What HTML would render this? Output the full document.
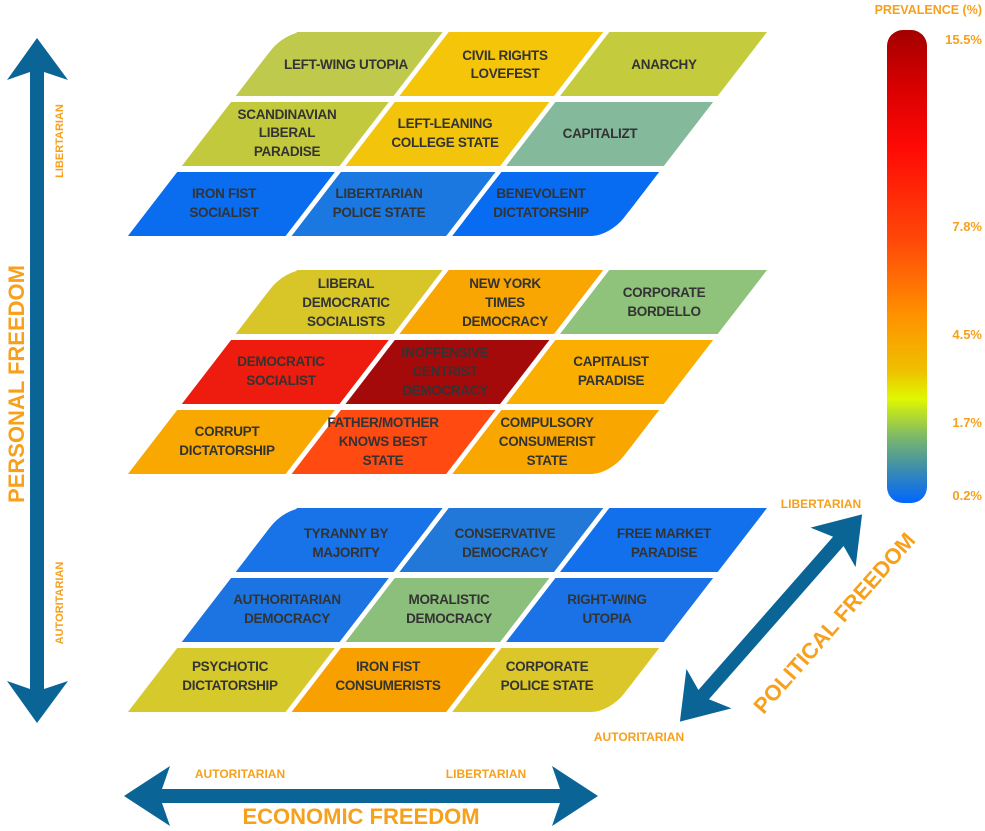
<!DOCTYPE html>
<html><head><meta charset="utf-8"><style>
html,body{margin:0;padding:0;background:#fff;}
svg{display:block;font-family:"Liberation Sans",sans-serif;}
.c{font-weight:bold;font-size:13.5px;fill:#333;text-anchor:middle;letter-spacing:-0.3px;}
.o{fill:#f7a01c;font-weight:bold;}
</style></head><body>
<svg width="985" height="831" viewBox="0 0 985 831" xmlns="http://www.w3.org/2000/svg">
<defs>
<linearGradient id="bar" x1="0" y1="0" x2="0" y2="1">
<stop offset="0" stop-color="#a30000"/>
<stop offset="0.12" stop-color="#d80000"/>
<stop offset="0.25" stop-color="#ff0a05"/>
<stop offset="0.45" stop-color="#ff4a08"/>
<stop offset="0.6" stop-color="#ff9000"/>
<stop offset="0.72" stop-color="#efc000"/>
<stop offset="0.78" stop-color="#dff800"/>
<stop offset="0.86" stop-color="#7cb86a"/>
<stop offset="0.93" stop-color="#3a8cb0"/>
<stop offset="1" stop-color="#0066ff"/>
</linearGradient>
</defs>

<!-- Top layer -->
<g transform="translate(285,32) skewX(-37.6)">
<rect x="0" y="0" width="157.7" height="64" fill="#bfc94c" rx="18"/>
<rect x="12" y="0" width="145.7" height="64" fill="#bfc94c"/>
<rect x="0" y="20" width="157.7" height="44" fill="#bfc94c"/>
<rect x="163.7" y="0" width="154.6" height="64" fill="#f5c50a"/>
<rect x="324.3" y="0" width="157.7" height="64" fill="#c4cb3c"/>
<rect x="0" y="70" width="157.7" height="64" fill="#c3c93c"/>
<rect x="163.7" y="70" width="154.6" height="64" fill="#f3c40c"/>
<rect x="324.3" y="70" width="157.7" height="64" fill="#85b99c"/>
<rect x="0" y="140" width="157.7" height="64" fill="#0a6cee"/>
<rect x="163.7" y="140" width="154.6" height="64" fill="#1a78e0"/>
<rect x="324.3" y="140" width="157.7" height="64" fill="#086cf2" rx="18"/>
<rect x="324.3" y="140" width="140" height="64" fill="#086cf2"/>
<rect x="324.3" y="140" width="157.7" height="40" fill="#086cf2"/>
</g>
<text class="c"><tspan x="346" y="69">LEFT-WING UTOPIA</tspan></text>
<text class="c"><tspan x="505" y="60">CIVIL RIGHTS</tspan><tspan x="505" y="78">LOVEFEST</tspan></text>
<text class="c"><tspan x="664" y="69">ANARCHY</tspan></text>
<text class="c"><tspan x="287" y="119">SCANDINAVIAN</tspan><tspan x="287" y="137">LIBERAL</tspan><tspan x="287" y="156">PARADISE</tspan></text>
<text class="c"><tspan x="445" y="128">LEFT-LEANING</tspan><tspan x="445" y="147">COLLEGE STATE</tspan></text>
<text class="c"><tspan x="600" y="138">CAPITALIZT</tspan></text>
<text class="c"><tspan x="224" y="198">IRON FIST</tspan><tspan x="224" y="217">SOCIALIST</tspan></text>
<text class="c"><tspan x="379" y="198">LIBERTARIAN</tspan><tspan x="379" y="217">POLICE STATE</tspan></text>
<text class="c"><tspan x="541" y="198">BENEVOLENT</tspan><tspan x="541" y="217">DICTATORSHIP</tspan></text>

<!-- Middle layer -->
<g transform="translate(285,270) skewX(-37.6)">
<rect x="0" y="0" width="157.7" height="64" fill="#d8c628" rx="18"/>
<rect x="12" y="0" width="145.7" height="64" fill="#d8c628"/>
<rect x="0" y="20" width="157.7" height="44" fill="#d8c628"/>
<rect x="163.7" y="0" width="154.6" height="64" fill="#f9a502"/>
<rect x="324.3" y="0" width="157.7" height="64" fill="#8fc27a"/>
<rect x="0" y="70" width="157.7" height="64" fill="#ee1c0e"/>
<rect x="163.7" y="70" width="154.6" height="64" fill="#a50a0a"/>
<rect x="324.3" y="70" width="157.7" height="64" fill="#f9ae00"/>
<rect x="0" y="140" width="157.7" height="64" fill="#f8a800"/>
<rect x="163.7" y="140" width="154.6" height="64" fill="#ff4a12"/>
<rect x="324.3" y="140" width="157.7" height="64" fill="#f9a700" rx="18"/>
<rect x="324.3" y="140" width="140" height="64" fill="#f9a700"/>
<rect x="324.3" y="140" width="157.7" height="40" fill="#f9a700"/>
</g>
<text class="c"><tspan x="346" y="288">LIBERAL</tspan><tspan x="346" y="307">DEMOCRATIC</tspan><tspan x="346" y="326">SOCIALISTS</tspan></text>
<text class="c"><tspan x="505" y="288">NEW YORK</tspan><tspan x="505" y="307">TIMES</tspan><tspan x="505" y="326">DEMOCRACY</tspan></text>
<text class="c"><tspan x="664" y="297">CORPORATE</tspan><tspan x="664" y="316">BORDELLO</tspan></text>
<text class="c"><tspan x="281" y="366">DEMOCRATIC</tspan><tspan x="281" y="385">SOCIALIST</tspan></text>
<text class="c"><tspan x="445" y="357">INOFFENSIVE</tspan><tspan x="445" y="376">CENTRIST</tspan><tspan x="445" y="395">DEMOCRACY</tspan></text>
<text class="c"><tspan x="611" y="366">CAPITALIST</tspan><tspan x="611" y="385">PARADISE</tspan></text>
<text class="c"><tspan x="227" y="436">CORRUPT</tspan><tspan x="227" y="455">DICTATORSHIP</tspan></text>
<text class="c"><tspan x="383" y="427">FATHER/MOTHER</tspan><tspan x="383" y="446">KNOWS BEST</tspan><tspan x="383" y="465">STATE</tspan></text>
<text class="c"><tspan x="547" y="427">COMPULSORY</tspan><tspan x="547" y="446">CONSUMERIST</tspan><tspan x="547" y="465">STATE</tspan></text>

<!-- Bottom layer -->
<g transform="translate(285,508) skewX(-37.6)">
<rect x="0" y="0" width="157.7" height="64" fill="#1872e8" rx="18"/>
<rect x="12" y="0" width="145.7" height="64" fill="#1872e8"/>
<rect x="0" y="20" width="157.7" height="44" fill="#1872e8"/>
<rect x="163.7" y="0" width="154.6" height="64" fill="#2278d8"/>
<rect x="324.3" y="0" width="157.7" height="64" fill="#1270ec"/>
<rect x="0" y="70" width="157.7" height="64" fill="#1b74e2"/>
<rect x="163.7" y="70" width="154.6" height="64" fill="#8cbf7c"/>
<rect x="324.3" y="70" width="157.7" height="64" fill="#1a72e6"/>
<rect x="0" y="140" width="157.7" height="64" fill="#d6c92c"/>
<rect x="163.7" y="140" width="154.6" height="64" fill="#f8a000"/>
<rect x="324.3" y="140" width="157.7" height="64" fill="#dcc72a" rx="18"/>
<rect x="324.3" y="140" width="140" height="64" fill="#dcc72a"/>
<rect x="324.3" y="140" width="157.7" height="40" fill="#dcc72a"/>
</g>
<text class="c"><tspan x="346" y="538">TYRANNY BY</tspan><tspan x="346" y="557">MAJORITY</tspan></text>
<text class="c"><tspan x="505" y="538">CONSERVATIVE</tspan><tspan x="505" y="557">DEMOCRACY</tspan></text>
<text class="c"><tspan x="664" y="538">FREE MARKET</tspan><tspan x="664" y="557">PARADISE</tspan></text>
<text class="c"><tspan x="287" y="604">AUTHORITARIAN</tspan><tspan x="287" y="623">DEMOCRACY</tspan></text>
<text class="c"><tspan x="449" y="604">MORALISTIC</tspan><tspan x="449" y="623">DEMOCRACY</tspan></text>
<text class="c"><tspan x="607" y="604">RIGHT-WING</tspan><tspan x="607" y="623">UTOPIA</tspan></text>
<text class="c"><tspan x="230" y="671">PSYCHOTIC</tspan><tspan x="230" y="690">DICTATORSHIP</tspan></text>
<text class="c"><tspan x="388" y="671">IRON FIST</tspan><tspan x="388" y="690">CONSUMERISTS</tspan></text>
<text class="c"><tspan x="547" y="671">CORPORATE</tspan><tspan x="547" y="690">POLICE STATE</tspan></text>

<!-- Colorbar -->
<rect x="887" y="30" width="40" height="473" rx="16" fill="url(#bar)"/>
<text class="o" x="982" y="14" font-size="12.5" text-anchor="end">PREVALENCE (%)</text>
<g class="o" font-size="13" text-anchor="end">
<text x="982" y="44">15.5%</text>
<text x="982" y="231">7.8%</text>
<text x="982" y="339">4.5%</text>
<text x="982" y="427">1.7%</text>
<text x="982" y="500">0.2%</text>
</g>

<!-- Vertical arrow -->
<g fill="#0a6496">
<rect x="30" y="60" width="14" height="640"/>
<polygon points="37,38 68,80 44,72 30,72 7,80"/>
<polygon points="37,723 68,681 44,689 30,689 7,681"/>
</g>
<text class="o" font-size="22" text-anchor="middle" transform="translate(24,384) rotate(-90)">PERSONAL FREEDOM</text>
<text class="o" font-size="11" text-anchor="middle" transform="translate(63,141) rotate(-90)">LIBERTARIAN</text>
<text class="o" font-size="11" text-anchor="middle" transform="translate(63,603) rotate(-90)">AUTORITARIAN</text>

<!-- Horizontal arrow -->
<g fill="#0a6496">
<rect x="150" y="789" width="420" height="14"/>
<polygon points="124,796 170,766 162,789 162,803 170,826"/>
<polygon points="598,796 552,766 560,789 560,803 552,826"/>
</g>
<text class="o" font-size="12" x="240" y="778" text-anchor="middle">AUTORITARIAN</text>
<text class="o" font-size="12" x="486" y="778" text-anchor="middle">LIBERTARIAN</text>
<text class="o" font-size="22" x="361" y="824" text-anchor="middle">ECONOMIC FREEDOM</text>

<!-- Diagonal arrow -->
<g fill="#0a6496" transform="translate(771,618) rotate(-48.7)">
<rect x="-110" y="-7" width="220" height="14"/>
<polygon points="-138,0 -94,-30 -102,-7 -102,7 -94,30"/>
<polygon points="138,0 94,-30 102,-7 102,7 94,30"/>
</g>
<text class="o" font-size="12" x="821" y="508" text-anchor="middle">LIBERTARIAN</text>
<text class="o" font-size="12" x="639" y="741" text-anchor="middle">AUTORITARIAN</text>
<text class="o" font-size="22" text-anchor="middle" transform="translate(840,628) rotate(-48.7)">POLITICAL FREEDOM</text>
</svg>
</body></html>
